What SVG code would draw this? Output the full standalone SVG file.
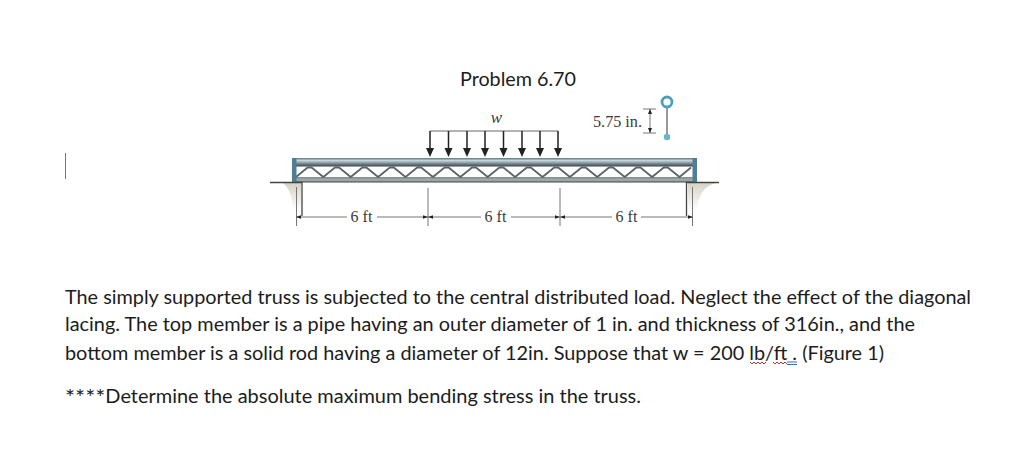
<svg xmlns="http://www.w3.org/2000/svg" width="1024" height="455" viewBox="0 0 1024 455">
<style>
.b{font-family:"Lato","Carlito","Open Sans",sans-serif;font-size:18.5px;fill:#1c1c1c}
.s{font-family:"Liberation Serif",serif;font-size:16px;fill:#3a3a3a}
.d{stroke:#777;stroke-width:1;fill:none}
.a{stroke:#222;stroke-width:1.5;fill:none}
.l{stroke:#666;stroke-width:1;fill:none}
.h{fill:#222}
.t{stroke:#5c6468;stroke-width:1.8;fill:none;stroke-linejoin:round}
</style>
<defs>
<linearGradient id="sl" x1="0" y1="0" x2="0" y2="1"><stop offset="0" stop-color="#d6d2c4"/><stop offset="1" stop-color="#fff"/></linearGradient>
<linearGradient id="rail" x1="0" y1="0" x2="0" y2="1"><stop offset="0" stop-color="#5e7480"/><stop offset=".3" stop-color="#c4d6de"/><stop offset=".65" stop-color="#7d8a90"/><stop offset="1" stop-color="#39444a"/></linearGradient>
<linearGradient id="bar" x1="0" y1="0" x2="0" y2="1"><stop offset="0" stop-color="#7f8a8a"/><stop offset=".6" stop-color="#a9b0ac"/><stop offset="1" stop-color="#3b4347"/></linearGradient>
</defs>
<line x1="65.500" y1="153" x2="65.500" y2="179" stroke="#777" stroke-width="1"/>
<g id="title"><text class="b" x="460" y="86" textLength="116" lengthAdjust="spacingAndGlyphs">Problem 6.70</text></g>
<g id="truss">
<rect x="296" y="158" width="397" height="8.500" fill="url(#rail)"/>
<rect x="296" y="177" width="397" height="5.500" fill="url(#bar)"/>
<path class="t" d="M296 177L307.600 167.500H311.600L323.300 177L335 167.500H339L350.700 177L362.400 167.500H366.400L378.100 177L389.800 167.500H393.800L405.500 177L417.200 167.500H421.200L432.900 177L444.600 167.500H448.600L460.300 177L472 167.500H476L487.700 177L499.400 167.500H503.400L515.100 177L526.800 167.500H530.800L542.500 177L554.200 167.500H558.200L569.900 177L581.600 167.500H585.600L597.300 177L609 167.500H613L624.700 177L636.400 167.500H640.400L652.100 177L663.800 167.500H667.800L679.500 177L691 167.500"/>
<rect x="292" y="158" width="4.500" height="24" fill="#4f7f97"/>
<rect x="692.500" y="158" width="4.500" height="24" fill="#4f7f97"/>
</g>
<g id="support-left">
<path d="M283 183H301V210H293Q292 190 283 183Z" fill="url(#sl)"/>
<path d="M270 182.500H302V216" fill="none" stroke="#444" stroke-width="1.300"/>
</g>
<g id="support-right">
<path d="M688 183H716Q699 187 697 210H688Z" fill="url(#sl)"/>
<path d="M719 182.500H686.500V216" fill="none" stroke="#444" stroke-width="1.300"/>
</g>
<g id="load">
<path class="l" d="M430 131H558"/>
<path class="a" d="M430 131V151M448.500 131V151M467 131V151M485 131V151M503.500 131V151M522 131V151M540 131V151M558 131V151"/>
<path class="h" d="M426 148H434L430 157ZM444.500 148H452.500L448.500 157ZM463 148H471L467 157ZM481 148H489L485 157ZM499.500 148H507.500L503.500 157ZM518 148H526L522 157ZM536 148H544L540 157ZM554 148H562L558 157Z"/>
<text x="496.500" y="123" text-anchor="middle" font-family="Liberation Serif,serif" font-style="italic" font-size="17" fill="#3a3a3a">w</text>
</g>
<g id="connectors">
<path class="d" d="M296.500 187V226M428 188V226M560 188V226M692.500 187V226"/>
<path class="d" d="M296 217H347M377 217H428M428 217H481M511 217H560M560 217H612M641 217H693"/>
<path class="h" d="M296 217l5-1.800v3.600ZM428 217l-5-1.800v3.600ZM428 217l5-1.800v3.600ZM560 217l-5-1.800v3.600ZM560 217l5-1.800v3.600ZM693 217l-5-1.800v3.600Z"/>
<path class="d" d="M643 109H656M643 133H656M650 109V133"/>
<path class="h" d="M650 109l-2 5h4ZM650 133l-2-5h4Z"/>
</g>
<g id="dims">
<text class="s" x="361.500" y="222" text-anchor="middle">6 ft</text>
<text class="s" x="495.500" y="222" text-anchor="middle">6 ft</text>
<text class="s" x="626.500" y="222" text-anchor="middle">6 ft</text>
<text class="s" x="593" y="126.500" textLength="49" lengthAdjust="spacingAndGlyphs">5.75 in.</text>
</g>
<g id="pin">
<line x1="667" y1="107" x2="667" y2="135" stroke="#555" stroke-width="1.200"/>
<circle cx="667" cy="102" r="5" fill="#fff" stroke="#4a9fc0" stroke-width="2.800"/>
<circle cx="667" cy="137" r="3.200" fill="#6bb3d0"/>
</g>
<g id="body">
<text class="b" x="65" y="304" textLength="906" lengthAdjust="spacingAndGlyphs">The simply supported truss is subjected to the central distributed load. Neglect the effect of the diagonal</text>
<text class="b" x="65" y="331" textLength="850" lengthAdjust="spacingAndGlyphs">lacing. The top member is a pipe having an outer diameter of 1 in. and thickness of 316in., and the</text>
<text class="b" x="65" y="360" textLength="819" lengthAdjust="spacingAndGlyphs">bottom member is a solid rod having a diameter of 12in. Suppose that w = 200 lb/ft . (Figure 1)</text>
<text class="b" x="65" y="403" textLength="576" lengthAdjust="spacingAndGlyphs"><tspan font-size="22" dy="2">****</tspan><tspan dy="-2">Determine the absolute maximum bending stress in the truss.</tspan></text>
</g>
<g id="marks" fill="none">
<path stroke="#c8302a" stroke-width="1" d="M750 362l2 2 2-2 2 2 2-2 2 2 2-2 2 2 2-2M773 362l2 2 2-2 2 2 2-2 2 2 2-2 2 2"/>
<path stroke="#2f6fc0" stroke-width="1" d="M787 362H797M787 364.500H797"/>
</g>
</svg>
